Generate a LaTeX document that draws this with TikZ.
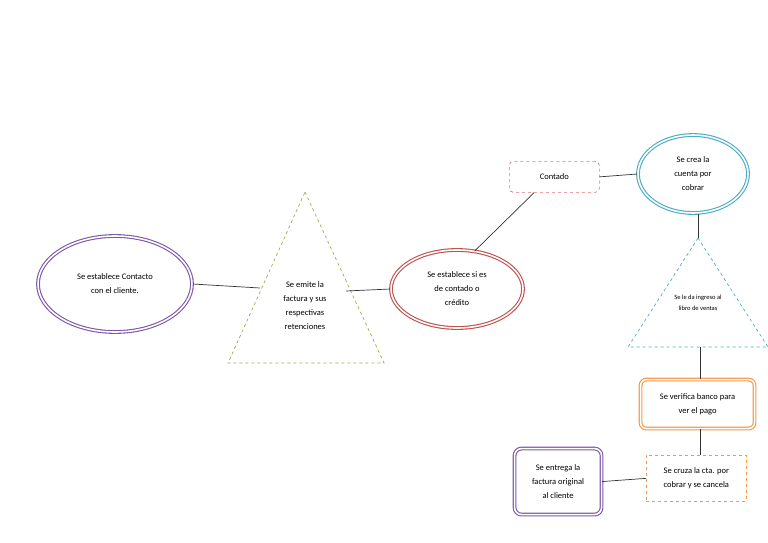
\documentclass[tikz,border=0pt]{standalone}
\usepackage{fontspec}
\setmainfont{Carlito}
\usetikzlibrary{shapes.geometric}
\definecolor{cpur}{HTML}{7E57A8}
\definecolor{cred}{HTML}{C0504D}
\definecolor{cblu}{HTML}{4BACC6}
\definecolor{cora}{HTML}{F79646}
\definecolor{coli}{HTML}{A8A84A}
\definecolor{cpink}{HTML}{E07070}
\begin{document}
\begin{tikzpicture}[x=1pt,y=-1pt,
  txt/.style={font=\fontsize{8.5}{14}\selectfont,align=center,text=black},
  dbl/.style={double=white,double distance=1.6pt,line width=1.1pt},
  ell/.style={ellipse,draw,dbl,txt,inner sep=0pt},
  dsh/.style={draw,dashed,line width=0.7pt},
  conn/.style={draw=black!80,line width=0.7pt}]
\useasboundingbox (0,0) rectangle (768,543);
% nodes
\node[ell,draw=cpur,minimum width=154,minimum height=96] (e1) at (115,284) {Se establece Contacto\\con el cliente.};
\draw[dsh,draw=coli] (305,192) -- (384,363) -- (228,363) -- cycle;
\node[txt] (t1) at (305,306) {Se emite la\\factura y sus\\respectivas\\retenciones};
\coordinate (t1l) at (260,288); \coordinate (t1r) at (346,291);
\node[ell,draw=cred,minimum width=132,minimum height=78] (e2) at (457,289) {Se establece si es\\de contado o\\crédito};
\node[dsh,draw=cpink,rounded corners=4pt,minimum width=90,minimum height=31,txt,anchor=north west] (c) at (509,161) {Contado};
\node[ell,draw=cblu,minimum width=110,minimum height=78] (e3) at (693,174) {Se crea la\\cuenta por\\cobrar};
\draw[dsh,draw=cblu] (698,238) -- (768,347) -- (628,347) -- cycle;
\node[txt,font=\fontsize{6.5}{11}\selectfont] (t2) at (698,303) {Se le da ingreso al\\libro de ventas};
\coordinate (t2t) at (698,238); \coordinate (t2b) at (700,347);
\node[draw=cora,dbl,rounded corners=6pt,minimum width=114,minimum height=49,txt,anchor=north west] (o1) at (640,379) {Se verifica banco para\\ver el pago};
\node[dsh,draw=cora,minimum width=100,minimum height=46,txt,anchor=north west] (o2) at (646,455) {Se cruza la cta. por\\cobrar y se cancela};
\node[draw=cpur,dbl,rounded corners=7pt,minimum width=87,minimum height=66,txt,anchor=north west] (p) at (514,448) {Se entrega la\\factura original\\al cliente};
% connectors
\draw[conn] (e1.east) -- (t1l);
\draw[conn] (t1r) -- (e2.west);
\draw[conn] (e2.65) -- (c.south west -| 534,192);
\draw[conn] (c.east) -- (e3.west);
\draw[conn] (e3.south -| t2t) -- (t2t);
\draw[conn] (t2b) -- (o1.north -| t2b);
\draw[conn] (o1.south -| t2b) -- (o2.north -| t2b);
\draw[conn] (o2.west) -- (p.east);
\end{tikzpicture}
\end{document}
